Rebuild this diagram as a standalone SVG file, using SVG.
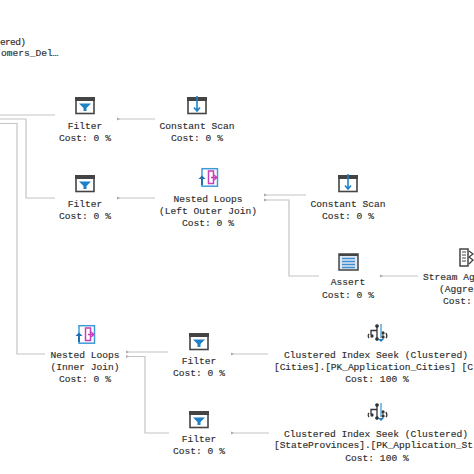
<svg xmlns="http://www.w3.org/2000/svg" width="474" height="474" viewBox="0 0 474 474">
<defs>
<style>
text{font-family:"Liberation Mono","DejaVu Sans Mono",monospace;font-size:9.6px;fill:#2e2e2e;stroke:#2e2e2e;stroke-width:.15px;text-anchor:middle}
.s{text-anchor:start}
.c{fill:none;stroke:#c4c4c4;stroke-width:1.2}
</style>
<marker id="ah" markerWidth="4" markerHeight="4" refX="3" refY="2" orient="auto-start-reverse" markerUnits="userSpaceOnUse"><path d="M0,2L3,0.5V3.5Z" fill="#aaa"/></marker>
<g id="filterIcon">
<rect x="1" y="1" width="18" height="15.500" fill="#fff" stroke="#444" stroke-width="1.600"/>
<rect x="0" y="0" width="20" height="4" fill="#444"/>
<path d="M4,6.500H16L11.500,11V14H8.500V11Z" fill="#1f80c8"/>
</g>
<g id="scanIcon">
<rect x="1" y="1" width="18" height="15.500" fill="#fff" stroke="#444" stroke-width="1.600"/>
<rect x="0" y="0" width="20" height="4" fill="#444"/>
<path d="M10,-1V13M7,10.500L10,14L13,10.500" fill="none" stroke="#1f80c8" stroke-width="1.600"/>
</g>
<g id="loopIcon">
<rect x="3" y="0.700" width="15.500" height="17.500" fill="#fff" stroke="#3f9bd8" stroke-width="1.500"/>
<path d="M9.500,3H14.500V15.500H9.500Z" fill="none" stroke="#c93fb5" stroke-width="1.500"/>
<path d="M12,9.500H17M15,7L18,9.500L15,12" fill="none" stroke="#c93fb5" stroke-width="1.300"/>
<path d="M3,17V10" stroke="#1f70b0" stroke-width="2"/>
<path d="M-0.500,11L3,7.500L6.500,11Z" fill="#1f70b0"/>
</g>
<g id="seekIcon" fill="none" stroke="#333" stroke-width="1.300">
<path d="M-6,8V3.500H0M0,-1V12M0,-0.500H1M-8,7C-9,8 -9,10 -8,11M9,6C10,8 10,10 9,11"/>
<circle cx="0" cy="-1" r="1.200" fill="#333"/><circle cx="0" cy="12" r="1.200" fill="#333"/><circle cx="-5" cy="9" r="1" fill="#333"/><circle cx="6" cy="6" r="1" fill="#333"/><circle cx="6" cy="10" r="1" fill="#333"/>
<path d="M4,-3V11" stroke="#3f9bd8"/><path d="M1,12H7L4,15Z" fill="#1f80c8" stroke="none"/>
</g>
</defs>
<rect width="474" height="474" fill="#fff"/>
<g id="connectors">
<path class="c" d="M0,115H55"/>
<path class="c" d="M0,119H26V198H55"/>
<path class="c" d="M0,123.500H17V354H45"/>
<path class="c" marker-start="url(#ah)" d="M117,119H155"/>
<path class="c" marker-start="url(#ah)" d="M117,198H155"/>
<path class="c" marker-start="url(#ah)" d="M264,195H306"/>
<path class="c" marker-start="url(#ah)" d="M264,200H289V276H319"/>
<path class="c" marker-start="url(#ah)" d="M380,276H418"/>
<path class="c" marker-start="url(#ah)" d="M126,352H168"/>
<path class="c" marker-start="url(#ah)" d="M126,356.500H145V433H169"/>
<path class="c" marker-start="url(#ah)" d="M231,354H268"/>
<path class="c" marker-start="url(#ah)" d="M231,433H269"/>
</g>
<g id="top-node"><text class="s" x="0" y="45" textLength="26">ered)</text><text class="s" x="1" y="56">omers_Del…</text></g>
<g id="filter1"><use href="#filterIcon" x="75" y="97"/><text x="85" y="129">Filter</text><text x="85" y="141">Cost: 0 %</text></g>
<g id="constant1"><use href="#scanIcon" x="187" y="97"/><text x="197" y="129">Constant Scan</text><text x="197" y="141">Cost: 0 %</text></g>
<g id="filter2"><use href="#filterIcon" x="75" y="175"/><text x="85" y="207">Filter</text><text x="85" y="219">Cost: 0 %</text></g>
<g id="loops1"><use href="#loopIcon" x="199" y="168"/><text x="208" y="202">Nested Loops</text><text x="208" y="214">(Left Outer Join)</text><text x="208" y="226">Cost: 0 %</text></g>
<g id="constant2"><use href="#scanIcon" x="338" y="175"/><text x="348" y="207">Constant Scan</text><text x="348" y="219">Cost: 0 %</text></g>
<g id="assert"><rect x="339" y="254" width="19" height="16" fill="#dfe7f2" stroke="#444" stroke-width="1.500"/><path d="M339,255H358" stroke="#444" stroke-width="2"/><path d="M342,258.500H355M342,261.500H355M342,264.500H355M342,267.500H355" stroke="#3f8fd0" stroke-width="1.500"/><text x="348" y="285">Assert</text><text x="348" y="298">Cost: 0 %</text></g>
<g id="stream"><rect x="460" y="249" width="8" height="17" fill="#fff" stroke="#444" stroke-width="1.500"/><path d="M462,252H466M462,255H466M462,258H466M462,261H466" stroke="#444"/><path d="M469,251L473,254L469,257L473,260L469,264" fill="none" stroke="#444" stroke-width="1.300"/><text class="s" x="423" y="280">Stream Ag</text><text class="s" x="439" y="292">(Aggre</text><text class="s" x="443" y="304">Cost:</text></g>
<g id="loops2"><use href="#loopIcon" x="76" y="325"/><text x="85" y="358">Nested Loops</text><text x="85" y="370">(Inner Join)</text><text x="85" y="382">Cost: 0 %</text></g>
<g id="filter3"><use href="#filterIcon" x="189" y="333"/><text x="199" y="364">Filter</text><text x="199" y="376">Cost: 0 %</text></g>
<g id="filter4"><use href="#filterIcon" x="189" y="411"/><text x="199" y="442">Filter</text><text x="199" y="454">Cost: 0 %</text></g>
<g id="seek1"><use href="#seekIcon" x="377" y="327"/><text x="376" y="358">Clustered Index Seek (Clustered)</text><text class="s" x="274" y="370" textLength="199">[Cities].[PK_Application_Cities] [C</text><text x="377" y="382">Cost: 100 %</text></g>
<g id="seek2"><use href="#seekIcon" x="377" y="406"/><text x="376" y="437">Clustered Index Seek (Clustered)</text><text class="s" x="274" y="448" textLength="199">[StateProvinces].[PK_Application_St</text><text x="377" y="461">Cost: 100 %</text></g>
</svg>
